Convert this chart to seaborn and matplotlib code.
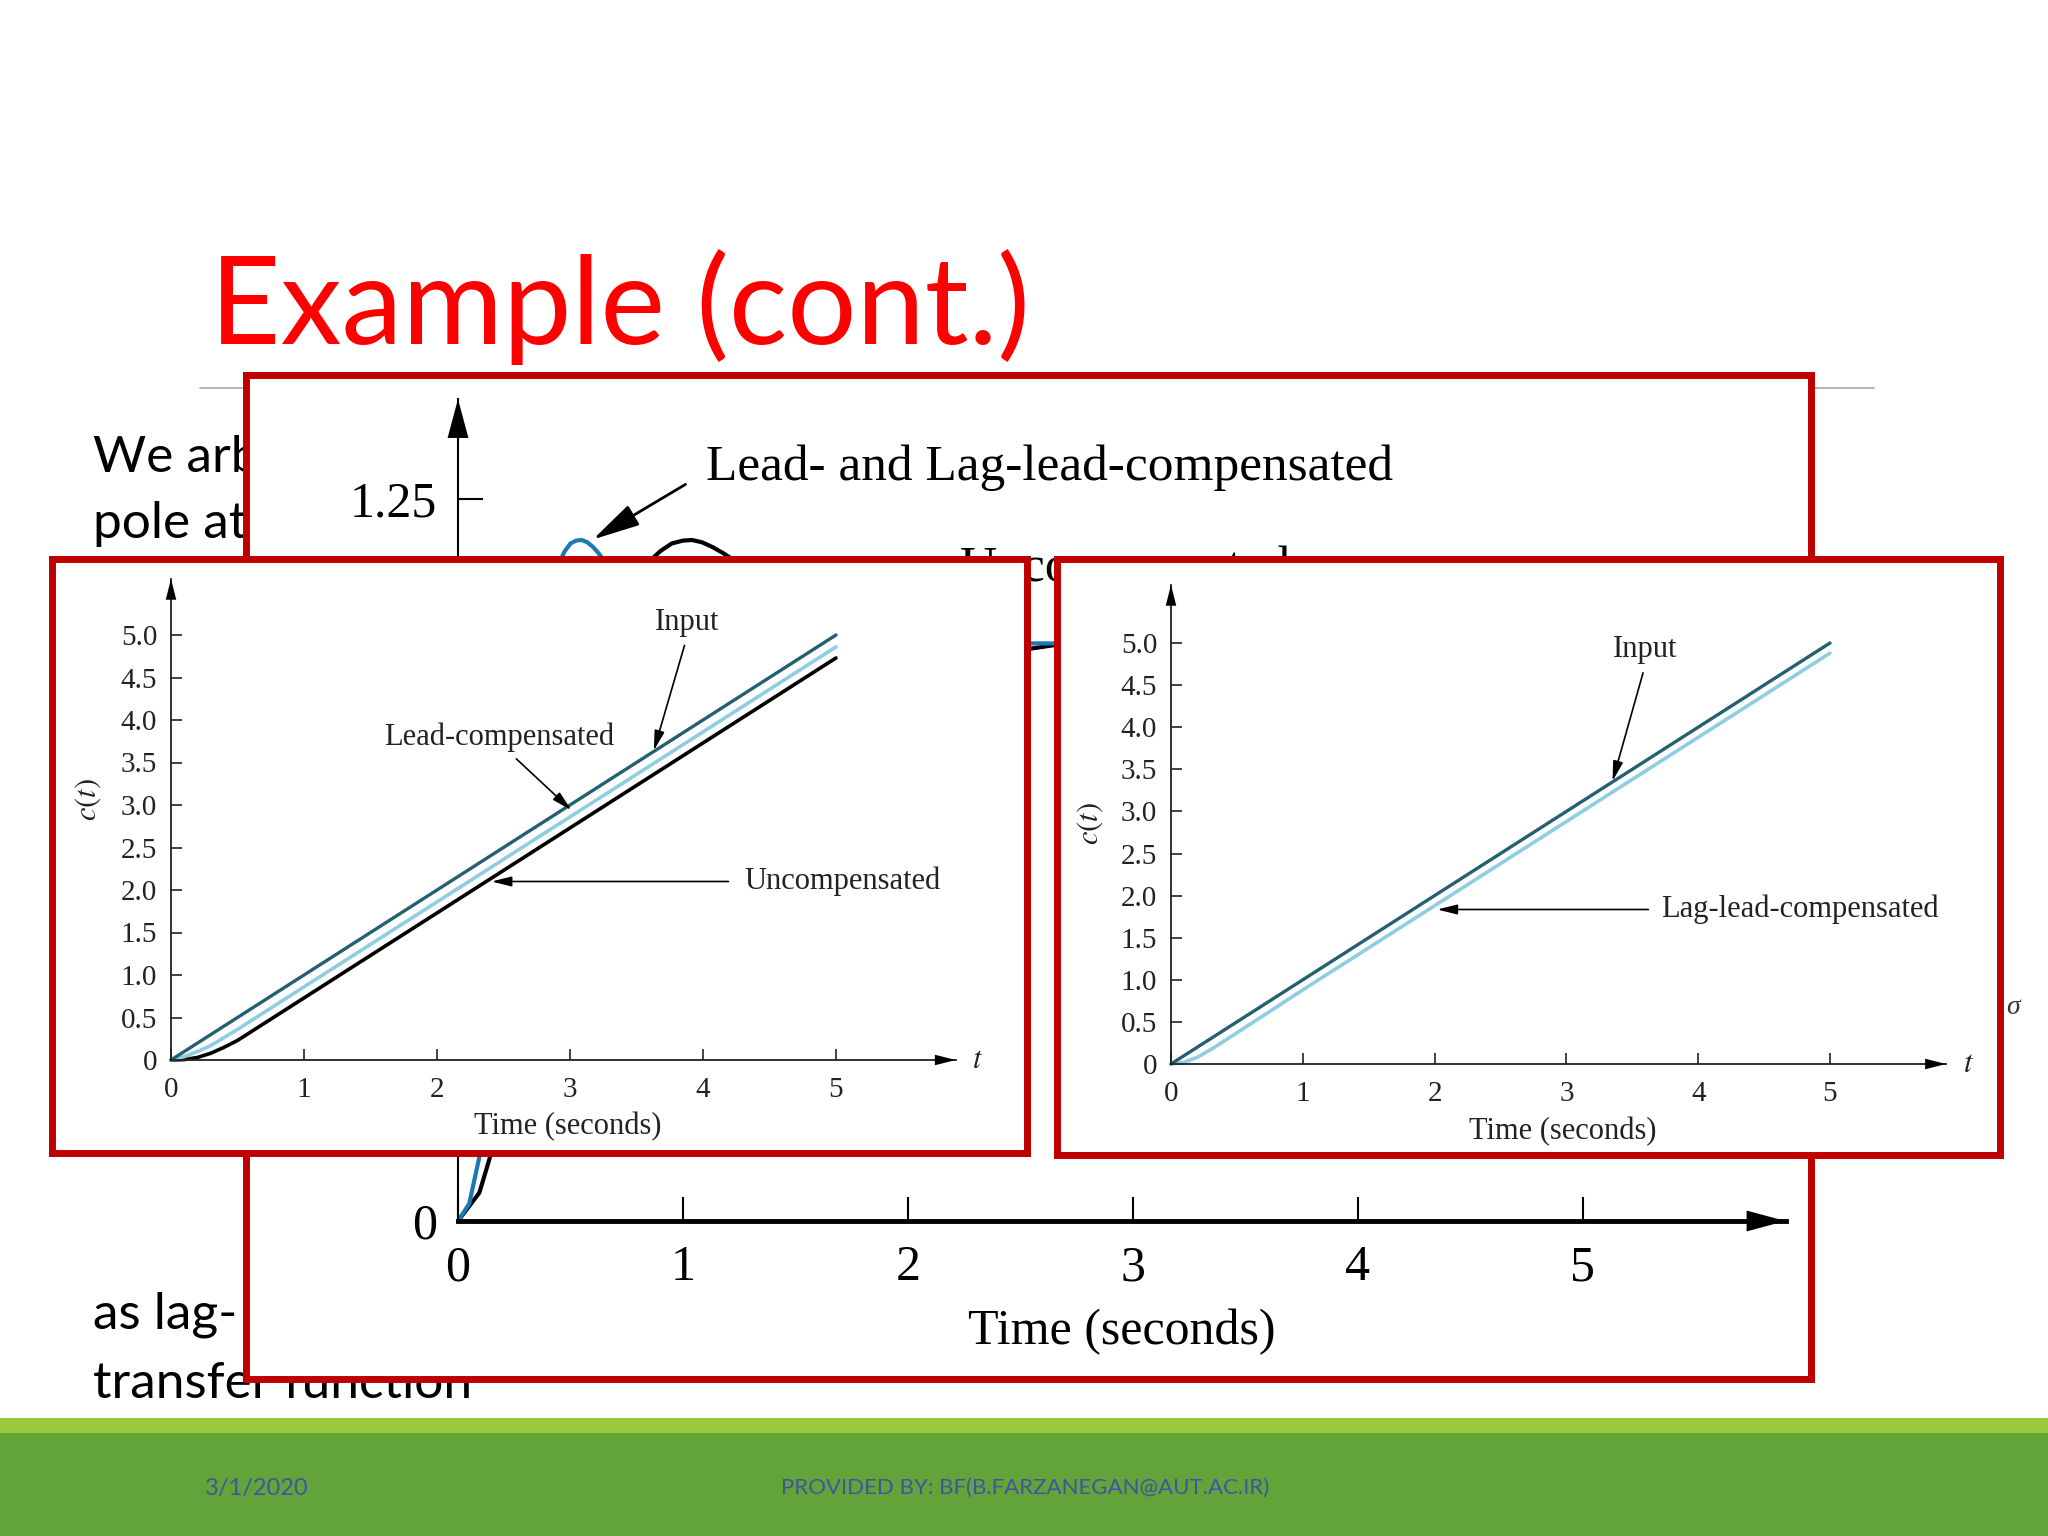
import matplotlib
matplotlib.use("Agg")
import matplotlib.pyplot as plt
import seaborn as sns
from matplotlib.patches import Rectangle

W, H = 2048, 1536

# step response curves of the slide behind (mostly covered)
step_t_lead = [0, 0.05, 0.1, 0.15, 0.2, 0.25, 0.3, 0.35, 0.4, 0.45, 0.475, 0.5, 0.525, 0.55, 0.575,
               0.6, 0.625, 0.65, 0.7, 0.8, 0.9, 1.0, 1.2, 1.4, 1.6, 2.0, 2.5, 3.0, 4.0, 5.0, 5.6]
step_c_lead = [0, 0.03, 0.12, 0.30, 0.50, 0.69, 0.85, 0.98, 1.08, 1.14, 1.160, 1.173, 1.178, 1.179, 1.175,
               1.167, 1.156, 1.143, 1.112, 1.047, 0.999, 0.973, 0.975, 0.997, 1.003, 1.00, 1.00, 1.00,
               1.00, 1.00, 1.00]
step_t_unc = [0, 0.095, 0.19, 0.28, 0.38, 0.47, 0.57, 0.66, 0.76, 0.85, 0.90, 0.95, 1.0, 1.04, 1.085,
              1.13, 1.18, 1.23, 1.32, 1.51, 1.70, 1.89, 2.27, 2.65, 3.0, 3.8, 4.5, 5.6]
step_c_unc = [0, 0.049, 0.173, 0.341, 0.525, 0.703, 0.859, 0.987, 1.081, 1.142, 1.160, 1.173, 1.178,
              1.179, 1.175, 1.167, 1.156, 1.143, 1.112, 1.047, 0.999, 0.973, 0.975, 0.997, 1.003, 1.00,
              1.00, 1.00]
step_xticks = [0, 1, 2, 3, 4, 5]
step_yticks = [0, 1.25]
step_yticklabels = ["0", "1.25"]

# ramp responses
input_t = [0, 5]
input_c = [0, 5]
lead_t = [0, 0.1, 0.2, 0.3, 0.5, 1, 2, 3, 4, 5]
lead_c = [0, 0.04, 0.10, 0.17, 0.36, 0.86, 1.86, 2.86, 3.86, 4.86]
unc_t = [0, 0.1, 0.2, 0.3, 0.4, 0.5, 1, 2, 3, 4, 5]
unc_c = [0, 0.005, 0.03, 0.08, 0.15, 0.23, 0.73, 1.73, 2.73, 3.73, 4.73]
laglead_t = [0, 0.1, 0.2, 0.3, 0.5, 1, 2, 3, 4, 5]
laglead_c = [0, 0.02, 0.08, 0.17, 0.37, 0.88, 1.88, 2.88, 3.88, 4.88]
ramp_xticks = [0, 1, 2, 3, 4, 5]
ramp_yticks = [0, 0.5, 1.0, 1.5, 2.0, 2.5, 3.0, 3.5, 4.0, 4.5, 5.0]
ramp_yticklabels = ["0", "0.5", "1.0", "1.5", "2.0", "2.5", "3.0", "3.5", "4.0", "4.5", "5.0"]

RED_BOX = "#C00000"
TEAL = "#245f72"
LIGHT = "#8fcde3"
STEP_BLUE = "#1a78b2"
INK = "#222222"

sns.set_theme(style="white")
plt.rcParams["font.family"] = ["Liberation Serif", "DejaVu Serif"]
plt.rcParams["mathtext.fontset"] = "stix"


def px_rect(x0, y0, x1, y1):
    return [x0 / W, 1 - y1 / H, (x1 - x0) / W, (y1 - y0) / H]


def red_box(fig, x0, y0, x1, y1, z):
    ax = fig.add_axes(px_rect(x0, y0, x1, y1), zorder=z)
    ax.set_facecolor("white")
    ax.set_xticks([])
    ax.set_yticks([])
    for s in ax.spines.values():
        s.set_visible(True)
        s.set_color(RED_BOX)
        s.set_linewidth(5)
    return ax


def data_axes(fig, ox, oy, sx, sy, xlim, ylim, z):
    rect = px_rect(ox + xlim[0] * sx, oy - ylim[1] * sy, ox + xlim[1] * sx, oy - ylim[0] * sy)
    ax = fig.add_axes(rect, zorder=z)
    ax.set_facecolor("none")
    ax.set_xlim(*xlim)
    ax.set_ylim(*ylim)
    for side in ["top", "right"]:
        ax.spines[side].set_visible(False)
    ax.spines["left"].set_position(("data", 0))
    ax.spines["bottom"].set_position(("data", 0))
    ax.spines["left"].set_bounds(0, ylim[1])
    ax.spines["bottom"].set_bounds(0, xlim[1])
    return ax


def arrow_heads(ax, hl, hw, color):
    style = f"-|>,head_length={hl},head_width={hw}"
    props = dict(arrowstyle=style, color=color, lw=0, shrinkA=0, shrinkB=0, mutation_scale=10)
    ax.annotate("", xy=(0, 1), xycoords=("data", "axes fraction"),
                xytext=(0, 0.9), textcoords=("data", "axes fraction"), arrowprops=props)
    ax.annotate("", xy=(1, 0), xycoords=("axes fraction", "data"),
                xytext=(0.9, 0), textcoords=("axes fraction", "data"), arrowprops=props)


fig = plt.figure(figsize=(W / 100, H / 100), dpi=100)

# slide background
bg = fig.add_axes([0, 0, 1, 1], zorder=0)
bg.set_xlim(0, W)
bg.set_ylim(H, 0)
bg.axis("off")
bg.text(210, 344, "Example (cont.)", color="#FF0000", fontsize=88, family=["Lato", "DejaVu Sans"],
        va="baseline", ha="left")
bg.plot([200, 1874], [388, 388], color="#A6A6A6", lw=1.2)
for txt, yb in [("We arbitrarily", 472), ("pole at", 538), ("as lag-", 1329), ("transfer function", 1398)]:
    bg.text(93, yb, txt, fontsize=37, family=["Lato", "DejaVu Sans"], va="baseline", color="black")
bg.text(2013, 1008, "σ", fontsize=20, style="italic", color="#333333", va="center", ha="center")
bg.add_patch(Rectangle((0, 1418), W, 15, color="#9BC93C", lw=0))
bg.add_patch(Rectangle((0, 1433), W, H - 1433, color="#62A43A", lw=0))
bg.text(205, 1488, "3/1/2020", fontsize=17, family=["Lato", "DejaVu Sans"], color="#3F55A0", va="center")
bg.text(781, 1488, "PROVIDED BY: BF(B.FARZANEGAN@AUT.AC.IR)", fontsize=16, family=["Lato", "DejaVu Sans"],
        color="#3F55A0", va="center")

# step response figure (behind the two ramp plots)
red_box(fig, 246, 375, 1811, 1379, 1)
st = data_axes(fig, 458, 1221, 225, 577.6, (-0.03, 5.9), (-0.03, 1.423), 2)
sns.lineplot(x=step_t_unc, y=step_c_unc, ax=st, color="black", linewidth=3, sort=False)
sns.lineplot(x=step_t_lead, y=step_c_lead, ax=st, color=STEP_BLUE, linewidth=3, sort=False)
st.spines["left"].set_linewidth(1.5)
st.spines["bottom"].set_linewidth(3.5)
for s in ["left", "bottom"]:
    st.spines[s].set_color("black")
st.set_xticks(step_xticks)
st.set_yticks(step_yticks, step_yticklabels)
st.tick_params(axis="x", bottom=True, direction="in", length=17, width=1.5, labelsize=36, pad=17,
               colors="black")
st.tick_params(axis="y", left=True, direction="in", length=18, width=1.5, labelsize=36, pad=15,
               colors="black")
st.set_xlabel("Time (seconds)", fontsize=36, va="center", color="black")
st.xaxis.set_label_coords(2.95, -0.192, transform=st.transData)
arrow_heads(st, 2.8, 0.75, "black")
st.annotate("Lead- and Lag-lead-compensated", xy=(0.6, 1.18), xytext=(1.10, 1.304),
            ha="left", va="center", fontsize=37, color="black",
            arrowprops=dict(arrowstyle="-|>,head_length=2.9,head_width=0.7", color="black", lw=2,
                            shrinkA=14, shrinkB=0, relpos=(0, 0.4), mutation_scale=10))
st.text(2.23, 1.13, "Uncompensated", va="center", ha="left", fontsize=37, color="black")


def ramp_panel(ax):
    for s in ["left", "bottom"]:
        ax.spines[s].set_color(INK)
        ax.spines[s].set_linewidth(1.3)
    ax.set_xticks(ramp_xticks)
    ax.set_yticks(ramp_yticks, ramp_yticklabels)
    ax.tick_params(axis="x", bottom=True, direction="in", length=8, width=1.2, labelsize=21, pad=12,
                   colors=INK)
    ax.tick_params(axis="y", left=True, direction="in", length=8, width=1.2, labelsize=21, pad=10,
                   colors=INK)
    arrow_heads(ax, 1.5, 0.38, "black")
    ax.annotate("$t$", xy=(1, 0), xycoords=("axes fraction", "data"), xytext=(12, 0),
                textcoords="offset points", fontsize=22, va="center", ha="left", color=INK)


arrow_kw = dict(arrowstyle="-|>,head_length=1.2,head_width=0.3", color="black", lw=1.2,
                mutation_scale=10, shrinkB=0)

# left panel: lead compensation
red_box(fig, 51.5, 558.5, 1026.5, 1152.5, 3)
lp = data_axes(fig, 171, 1060, 133, 85, (-0.05, 5.9), (-0.05, 5.66), 4)
sns.lineplot(x=unc_t, y=unc_c, ax=lp, color="black", linewidth=2.6, sort=False)
sns.lineplot(x=lead_t, y=lead_c, ax=lp, color=LIGHT, linewidth=2.6, sort=False)
sns.lineplot(x=input_t, y=input_c, ax=lp, color=TEAL, linewidth=2.4, sort=False)
ramp_panel(lp)
lp.set_xlabel("Time (seconds)", fontsize=22, va="center", color=INK)
lp.xaxis.set_label_coords(2.98, -0.78, transform=lp.transData)
lp.set_ylabel("$c(t)$", fontsize=22, va="center", ha="center", color=INK)
lp.yaxis.set_label_coords(-0.62, 3.07, transform=lp.transData)
lp.annotate("Input", xy=(3.63, 3.64), xytext=(3.88, 5.15), ha="center", va="center", fontsize=22,
            color=INK, arrowprops=dict(relpos=(0.5, 0), shrinkA=4, **arrow_kw))
lp.annotate("Lead-compensated", xy=(3.01, 2.94), xytext=(2.47, 3.80), ha="center", va="center",
            fontsize=22, color=INK, arrowprops=dict(relpos=(0.54, 0), shrinkA=4, **arrow_kw))
lp.annotate("Uncompensated", xy=(2.41, 2.1), xytext=(4.31, 2.1), ha="left", va="center",
            fontsize=22, color=INK, arrowprops=dict(relpos=(0, 0.5), shrinkA=9, **arrow_kw))

# right panel: lag-lead compensation
red_box(fig, 1056.5, 558.5, 1999.5, 1154.5, 5)
rp = data_axes(fig, 1171, 1064, 131.8, 84.2, (-0.05, 5.88), (-0.05, 5.69), 6)
sns.lineplot(x=laglead_t, y=laglead_c, ax=rp, color=LIGHT, linewidth=2.6, sort=False)
sns.lineplot(x=input_t, y=input_c, ax=rp, color=TEAL, linewidth=2.4, sort=False)
ramp_panel(rp)
rp.set_xlabel("Time (seconds)", fontsize=22, va="center", color=INK)
rp.xaxis.set_label_coords(2.97, -0.80, transform=rp.transData)
rp.set_ylabel("$c(t)$", fontsize=22, va="center", ha="center", color=INK)
rp.yaxis.set_label_coords(-0.61, 2.86, transform=rp.transData)
rp.annotate("Input", xy=(3.35, 3.36), xytext=(3.60, 4.92), ha="center", va="center", fontsize=22,
            color=INK, arrowprops=dict(relpos=(0.5, 0), shrinkA=4, **arrow_kw))
rp.annotate("Lag-lead-compensated", xy=(2.02, 1.835), xytext=(3.72, 1.835), ha="left", va="center",
            fontsize=22, color=INK, arrowprops=dict(relpos=(0, 0.5), shrinkA=7, **arrow_kw))

fig.savefig("out.png", dpi=100)
